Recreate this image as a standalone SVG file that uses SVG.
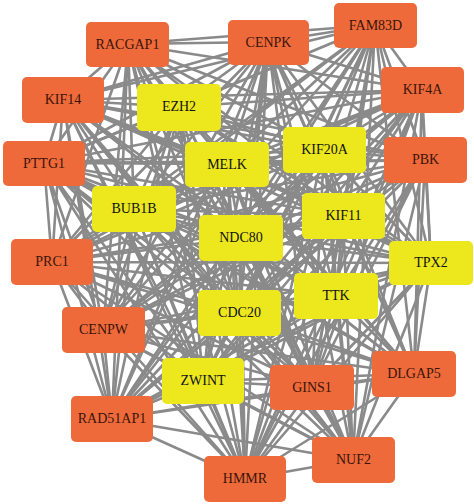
<svg xmlns="http://www.w3.org/2000/svg" width="474" height="504" viewBox="0 0 474 504">
<style>
.e{fill:none;stroke:#8a8a8a;stroke-width:2.6;stroke-linecap:round}
.o rect{fill:#ef6a3a}
.y rect{fill:#ede81e}
text{font-family:"Liberation Serif","Times New Roman",serif;font-size:14px;text-anchor:middle}
.o text{fill:#3a140a}
.y text{fill:#111}
</style>
<rect width="474" height="504" fill="#fff"/>
<g id="edges">
<path class="e" d="M128 44L268 42M128 44L375 25M128 44L63 100M128 44L179 107M128 44L422 90M128 44L44 163M128 44L227 164M128 44L324 150M128 44L425 160M128 44L134 209M128 44L241 238M128 44L343 216M128 44L52 262M128 44L431 263M128 44L336 296M128 44L239 313M128 44L103 330M128 44L203 381M128 44L112 419M128 44L312 387M128 44L414 374M128 44L353 460M128 44L245 479"/>
<path class="e" d="M268 42L375 25M268 42L63 100M268 42L179 107M268 42L422 90M268 42L44 163M268 42L227 164M268 42L324 150M268 42L425 160M268 42L134 209M268 42L241 238M268 42L343 216M268 42L52 262M268 42L431 263M268 42L336 296M268 42L239 313M268 42L103 330M268 42L203 381M268 42L112 419M268 42L312 387M268 42L414 374M268 42L353 460M268 42L245 479"/>
<path class="e" d="M375 25L63 100M375 25L179 107M375 25L422 90M375 25L44 163M375 25L227 164M375 25L324 150M375 25L425 160M375 25L134 209M375 25L241 238M375 25L343 216M375 25L52 262M375 25L431 263M375 25L336 296M375 25L239 313M375 25L103 330M375 25L203 381M375 25L112 419M375 25L312 387M375 25L414 374M375 25L353 460M375 25L245 479"/>
<path class="e" d="M63 100L179 107M63 100L422 90M63 100L44 163M63 100L227 164M63 100L324 150M63 100L425 160M63 100L134 209M63 100L241 238M63 100L343 216M63 100L52 262M63 100L431 263M63 100L336 296M63 100L239 313M63 100L103 330M63 100L203 381M63 100L112 419M63 100L312 387M63 100L414 374M63 100L353 460M63 100L245 479"/>
<path class="e" d="M179 107L422 90M179 107L44 163M179 107L227 164M179 107L324 150M179 107L425 160M179 107L134 209M179 107L241 238M179 107L343 216M179 107L52 262M179 107L431 263M179 107L336 296M179 107L239 313M179 107L103 330M179 107L203 381M179 107L112 419M179 107L312 387M179 107L414 374M179 107L353 460M179 107L245 479"/>
<path class="e" d="M422 90L44 163M422 90L227 164M422 90L324 150M422 90L425 160M422 90L134 209M422 90L241 238M422 90L343 216M422 90L52 262M422 90L431 263M422 90L336 296M422 90L239 313M422 90L103 330M422 90L203 381M422 90L112 419M422 90L312 387M422 90L414 374M422 90L353 460M422 90L245 479"/>
<path class="e" d="M44 163L227 164M44 163L324 150M44 163L425 160M44 163L134 209M44 163L241 238M44 163L343 216M44 163L52 262M44 163L431 263M44 163L336 296M44 163L239 313M44 163L103 330M44 163L203 381M44 163L112 419M44 163L312 387M44 163L414 374M44 163L353 460M44 163L245 479"/>
<path class="e" d="M227 164L324 150M227 164L425 160M227 164L134 209M227 164L241 238M227 164L343 216M227 164L52 262M227 164L431 263M227 164L336 296M227 164L239 313M227 164L103 330M227 164L203 381M227 164L112 419M227 164L312 387M227 164L414 374M227 164L353 460M227 164L245 479"/>
<path class="e" d="M324 150L425 160M324 150L134 209M324 150L241 238M324 150L343 216M324 150L52 262M324 150L431 263M324 150L336 296M324 150L239 313M324 150L103 330M324 150L203 381M324 150L112 419M324 150L312 387M324 150L414 374M324 150L353 460M324 150L245 479"/>
<path class="e" d="M425 160L134 209M425 160L241 238M425 160L343 216M425 160L52 262M425 160L431 263M425 160L336 296M425 160L239 313M425 160L103 330M425 160L203 381M425 160L112 419M425 160L312 387M425 160L414 374M425 160L353 460M425 160L245 479"/>
<path class="e" d="M134 209L241 238M134 209L343 216M134 209L52 262M134 209L431 263M134 209L336 296M134 209L239 313M134 209L103 330M134 209L203 381M134 209L112 419M134 209L312 387M134 209L414 374M134 209L353 460M134 209L245 479"/>
<path class="e" d="M241 238L343 216M241 238L52 262M241 238L431 263M241 238L336 296M241 238L239 313M241 238L103 330M241 238L203 381M241 238L112 419M241 238L312 387M241 238L414 374M241 238L353 460M241 238L245 479"/>
<path class="e" d="M343 216L52 262M343 216L431 263M343 216L336 296M343 216L239 313M343 216L103 330M343 216L203 381M343 216L112 419M343 216L312 387M343 216L414 374M343 216L353 460M343 216L245 479"/>
<path class="e" d="M52 262L431 263M52 262L336 296M52 262L239 313M52 262L103 330M52 262L203 381M52 262L112 419M52 262L312 387M52 262L414 374M52 262L353 460M52 262L245 479"/>
<path class="e" d="M431 263L336 296M431 263L239 313M431 263L103 330M431 263L203 381M431 263L112 419M431 263L312 387M431 263L414 374M431 263L353 460M431 263L245 479"/>
<path class="e" d="M336 296L239 313M336 296L103 330M336 296L203 381M336 296L112 419M336 296L312 387M336 296L414 374M336 296L353 460M336 296L245 479"/>
<path class="e" d="M239 313L103 330M239 313L203 381M239 313L112 419M239 313L312 387M239 313L414 374M239 313L353 460M239 313L245 479"/>
<path class="e" d="M103 330L203 381M103 330L112 419M103 330L312 387M103 330L414 374M103 330L353 460M103 330L245 479"/>
<path class="e" d="M203 381L112 419M203 381L312 387M203 381L414 374M203 381L353 460M203 381L245 479"/>
<path class="e" d="M112 419L312 387M112 419L414 374M112 419L353 460M112 419L245 479"/>
<path class="e" d="M312 387L414 374M312 387L353 460M312 387L245 479M414 374L353 460M414 374L245 479M353 460L245 479"/>
</g>
<g id="RACGAP1" class="o"><rect x="86" y="22" width="83" height="45" rx="5"/><text x="127.5" y="48.5">RACGAP1</text></g>
<g id="CENPK" class="o"><rect x="228" y="20" width="81" height="45" rx="5"/><text x="268.5" y="46.5">CENPK</text></g>
<g id="FAM83D" class="o"><rect x="334" y="3" width="83" height="45" rx="5"/><text x="375.5" y="29.5">FAM83D</text></g>
<g id="KIF14" class="o"><rect x="22" y="77" width="82" height="46" rx="5"/><text x="63" y="104">KIF14</text></g>
<g id="EZH2" class="y"><rect x="137" y="84" width="84" height="47" rx="5"/><text x="179" y="111">EZH2</text></g>
<g id="KIF4A" class="o"><rect x="381" y="67" width="83" height="46" rx="5"/><text x="422.5" y="94">KIF4A</text></g>
<g id="PTTG1" class="o"><rect x="3" y="141" width="82" height="45" rx="5"/><text x="44" y="167.5">PTTG1</text></g>
<g id="MELK" class="y"><rect x="185" y="142" width="84" height="45" rx="5"/><text x="227" y="168.5">MELK</text></g>
<g id="KIF20A" class="y"><rect x="283" y="127" width="83" height="46" rx="5"/><text x="324.5" y="154">KIF20A</text></g>
<g id="PBK" class="o"><rect x="384" y="137" width="83" height="46" rx="5"/><text x="425.5" y="164">PBK</text></g>
<g id="BUB1B" class="y"><rect x="92" y="186" width="84" height="46" rx="5"/><text x="134" y="213">BUB1B</text></g>
<g id="NDC80" class="y"><rect x="199" y="215" width="84" height="46" rx="5"/><text x="241" y="242">NDC80</text></g>
<g id="KIF11" class="y"><rect x="302" y="193" width="83" height="46" rx="5"/><text x="343.5" y="220">KIF11</text></g>
<g id="PRC1" class="o"><rect x="11" y="239" width="82" height="46" rx="5"/><text x="52" y="266">PRC1</text></g>
<g id="TPX2" class="y"><rect x="389" y="241" width="84" height="44" rx="5"/><text x="431" y="267">TPX2</text></g>
<g id="TTK" class="y"><rect x="294" y="273" width="84" height="46" rx="5"/><text x="336" y="300">TTK</text></g>
<g id="CDC20" class="y"><rect x="198" y="290" width="83" height="46" rx="5"/><text x="239.5" y="317">CDC20</text></g>
<g id="CENPW" class="o"><rect x="62" y="307" width="83" height="46" rx="5"/><text x="103.5" y="334">CENPW</text></g>
<g id="ZWINT" class="y"><rect x="162" y="358" width="82" height="46" rx="5"/><text x="203" y="385">ZWINT</text></g>
<g id="RAD51AP1" class="o"><rect x="71" y="396" width="82" height="46" rx="5"/><text x="112" y="423">RAD51AP1</text></g>
<g id="GINS1" class="o"><rect x="270" y="365" width="84" height="45" rx="5"/><text x="312" y="391.5">GINS1</text></g>
<g id="DLGAP5" class="o"><rect x="372" y="351" width="84" height="46" rx="5"/><text x="414" y="378">DLGAP5</text></g>
<g id="NUF2" class="o"><rect x="312" y="437" width="83" height="46" rx="5"/><text x="353.5" y="464">NUF2</text></g>
<g id="HMMR" class="o"><rect x="204" y="456" width="82" height="46" rx="5"/><text x="245" y="483">HMMR</text></g>
</svg>
